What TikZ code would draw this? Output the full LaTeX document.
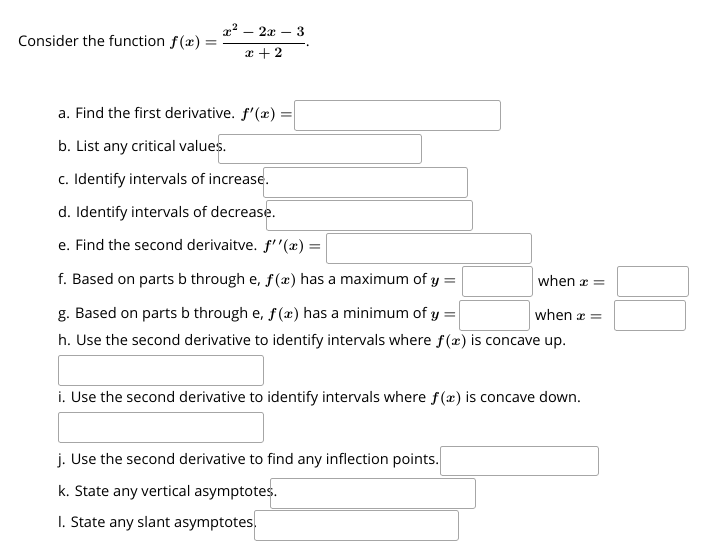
\documentclass[tikz,border=0pt]{standalone}
\usepackage{amsmath,bm}
\usepackage{fontspec}
\setmainfont{Open Sans}
\begin{document}
\begin{tikzpicture}[x=1pt,y=-1pt,
  txt/.style={anchor=west,inner sep=0pt,font=\fontsize{14.6}{17}\selectfont},
  ans/.style={draw=gray!70,rounded corners=2pt,line width=0.8pt,anchor=north west,inner sep=0pt}]
\useasboundingbox[fill=white] (0,0) rectangle (714,554);
\node[txt] (t0) at (18,42) {Consider the function $\bm{f(x)=\dfrac{x^2-2x-3}{x+2}}$.};
\newcommand{\abox}[5]{\node[ans,minimum width=#3pt,minimum height=#4pt] (#5) at (#1,#2) {};}
\node[txt] (ta) at (58,115) {a. Find the first derivative. $\bm{f'(x)=}$};
\abox{294}{100}{206}{30}{ba}
\node[txt] (tb) at (58,148) {b. List any critical values.};
\abox{218}{134}{203}{29}{bb}
\node[txt] (tc) at (58,181) {c. Identify intervals of increase.};
\abox{263}{167}{204}{30}{bc}
\node[txt] (td) at (58,214) {d. Identify intervals of decrease.};
\abox{266}{200}{206}{30}{bd}
\node[txt] (te) at (58,247) {e. Find the second derivaitve. $\bm{f'\,'(x)=}$};
\abox{326}{233}{205}{30}{be}
\node[txt] (tf) at (58,281) {f. Based on parts b through e, $\bm{f(x)}$ has a maximum of $\bm{y=}$};
\abox{462}{266}{70}{30}{bf1}
\node[txt] (tf2) at (538,281) {when $\bm{x=}$};
\abox{617}{266}{71}{30}{bf2}
\node[txt] (tg) at (58,315) {g. Based on parts b through e, $\bm{f(x)}$ has a minimum of $\bm{y=}$};
\abox{459}{300}{70}{30}{bg1}
\node[txt] (tg2) at (535,315) {when $\bm{x=}$};
\abox{614}{300}{71}{30}{bg2}
\node[txt] (th) at (58,342) {h. Use the second derivative to identify intervals where $\bm{f(x)}$ is concave up.};
\abox{58}{355}{205}{30}{bh}
\node[txt] (ti) at (58,399) {i. Use the second derivative to identify intervals where $\bm{f(x)}$ is concave down.};
\abox{58}{412}{205}{30}{bi}
\node[txt] (tj) at (58,461) {j. Use the second derivative to find any inflection points.};
\abox{440}{446}{158}{29}{bj}
\node[txt] (tk) at (58,493) {k. State any vertical asymptotes.};
\abox{270}{478}{205}{30}{bk}
\node[txt] (tl) at (58,524) {l. State any slant asymptotes.};
\abox{254}{510}{204}{30}{bl}
\end{tikzpicture}
\end{document}
